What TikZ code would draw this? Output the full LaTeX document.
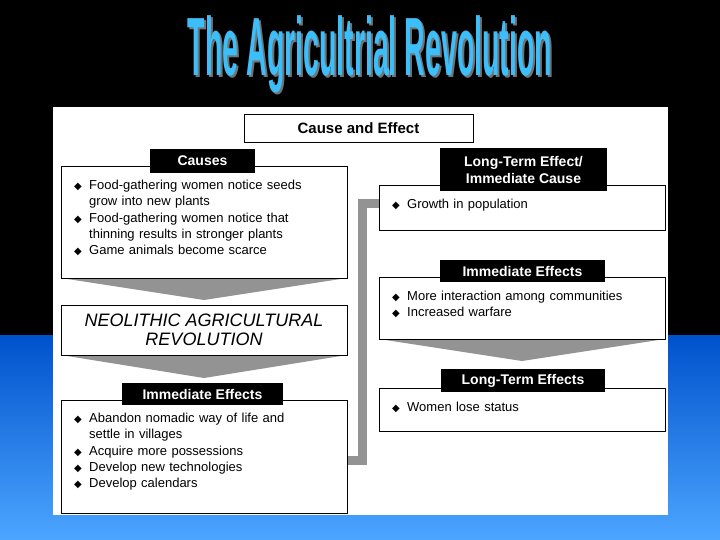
\documentclass[tikz,border=0pt]{standalone}
\usepackage{fontspec}
\setmainfont{Liberation Sans}
\newfontfamily\djv{DejaVu Sans}
\newcommand{\bul}{\makebox[15pt][l]{{\djv\fontsize{10}{10}\selectfont ◆}}}
\newcommand{\titletext}{\scalebox{0.5}[1.45]{\fontsize{57}{57}\selectfont\bfseries The Agricultrial Revolution}}
\definecolor{titlecol}{RGB}{60,190,250}
\begin{document}
\begin{tikzpicture}[x=1pt,y=-1pt,
  box/.style={draw=black,line width=0.8pt,fill=white},
  lab/.style={fill=black,text=white,font=\bfseries\fontsize{14}{16}\selectfont,inner sep=0pt,align=center},
  chev/.style={fill=gray!85},
  item/.style={anchor=north west,align=left,font=\fontsize{13}{16.3}\selectfont,text width=275pt,inner sep=0pt}]
\useasboundingbox (0,0) rectangle (720,540);
\fill[black] (0,0) rectangle (720,335);
\shade[top color=blue!60!cyan!80!black,bottom color=cyan!50!blue!70] (0,335) rectangle (720,540);
\fill[white] (53,107) rectangle (668,515);
% title
\node (title) at (370,55) {\rlap{\raisebox{-2pt}{\hspace*{2pt}\color{black!55}\titletext}}{\color{titlecol}\titletext}};
% connector
\draw[gray!85,line width=9pt] (347,460) -- (362,460) -- (362,204) -- (379,204);
% chevrons
\fill[chev] (61,278) -- (347,278) -- (204,300) -- cycle;
\fill[chev] (61,355) -- (347,355) -- (204,378) -- cycle;
\fill[chev] (379,339) -- (665,339) -- (522,361) -- cycle;
% boxes
\node[box,minimum width=229pt,minimum height=28pt,font=\bfseries\fontsize{15}{17}\selectfont] (ce) at (358.5,128) {Cause and Effect};
\draw[box] (61,166) rectangle (347,278);
\node[lab,minimum width=105pt,minimum height=24pt] (causes) at (202.5,161) {Causes};
\node[item] (ci) at (74,180) {\bul Food-gathering women notice seeds\\\hspace*{15pt}grow into new plants\\\bul Food-gathering women notice that\\\hspace*{15pt}thinning results in stronger plants\\\bul Game animals become scarce};
\node[box,minimum width=286pt,minimum height=50pt,align=center,font=\itshape\fontsize{18}{19}\selectfont] (neo) at (204,330) {NEOLITHIC AGRICULTURAL\\REVOLUTION};
\draw[box] (61,400) rectangle (347,513);
\node[lab,minimum width=161pt,minimum height=22pt] (ie1) at (202.5,394) {Immediate Effects};
\node[item] (ii) at (74,413) {\bul Abandon nomadic way of life and\\\hspace*{15pt}settle in villages\\\bul Acquire more possessions\\\bul Develop new technologies\\\bul Develop calendars};
% right
\draw[box] (379,185) rectangle (665,230);
\node[lab,minimum width=167pt,minimum height=43pt,font=\bfseries\fontsize{14}{17}\selectfont] (lt) at (523.5,169.5) {Long-Term Effect/\\Immediate Cause};
\node[item] (li) at (392,199) {\bul Growth in population};
\draw[box] (379,277) rectangle (665,339);
\node[lab,minimum width=165pt,minimum height=22pt] (ie2) at (522.5,271) {Immediate Effects};
\node[item] (ri) at (392,291) {\bul More interaction among communities\\\bul Increased warfare};
\draw[box] (379,388) rectangle (665,431);
\node[lab,minimum width=164pt,minimum height=23pt] (lte) at (523,380.5) {Long-Term Effects};
\node[item] (wi) at (392,402) {\bul Women lose status};
\end{tikzpicture}
\end{document}
